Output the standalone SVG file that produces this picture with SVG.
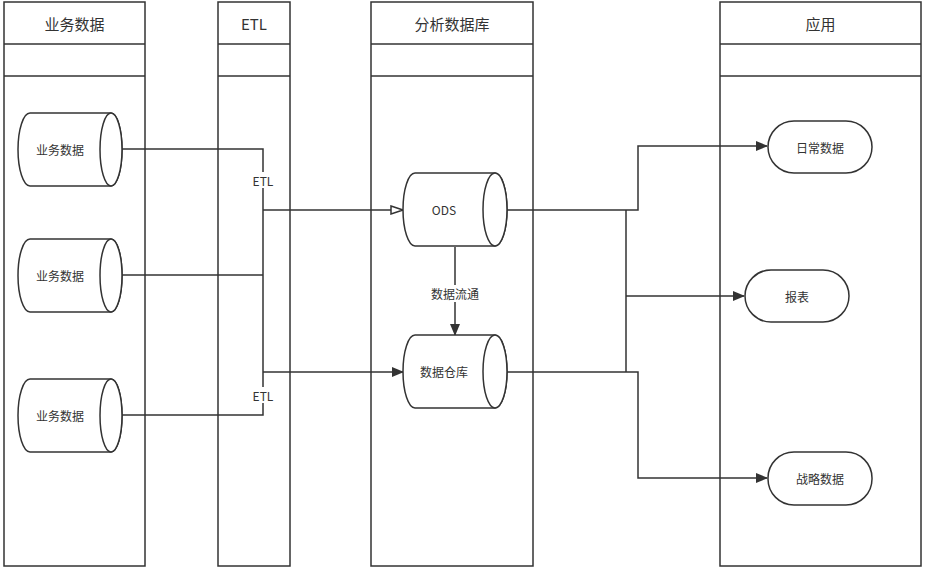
<svg xmlns="http://www.w3.org/2000/svg" width="926" height="572" viewBox="0 0 926 572">
<style>
.ln{fill:#fff;stroke:#333;stroke-width:1.5}
.c{fill:none;stroke:#333;stroke-width:1.5}
text{font-family:"Noto Sans CJK SC","Noto Sans",sans-serif;fill:#333;text-anchor:middle;dominant-baseline:central}
.h{font-size:15px}
.t{font-size:12px}
</style>
<defs>
<marker id="fa" markerWidth="12" markerHeight="10" refX="11" refY="5" orient="auto" markerUnits="userSpaceOnUse"><path d="M0,0L12,5L0,10Z" fill="#333"/></marker>
<marker id="oa" markerWidth="14" markerHeight="10" refX="13" refY="5" orient="auto" markerUnits="userSpaceOnUse"><path d="M1,1L13,5L1,9Z" fill="#fff" stroke="#333" stroke-width="1.5"/></marker>
</defs>
<rect width="926" height="572" fill="#fff"/>
<g id="lane1"><rect class="ln" x="4" y="2" width="141" height="564"/><line class="c" x1="4" y1="44" x2="145" y2="44"/><line class="c" x1="4" y1="76" x2="145" y2="76"/><text class="h" x="74.5" y="23">业务数据</text></g>
<g id="lane2"><rect class="ln" x="218" y="2" width="72" height="564"/><line class="c" x1="218" y1="44" x2="290" y2="44"/><line class="c" x1="218" y1="76" x2="290" y2="76"/><text class="h" x="254" y="23">ETL</text></g>
<g id="lane3"><rect class="ln" x="371" y="2" width="162" height="564"/><line class="c" x1="371" y1="44" x2="533" y2="44"/><line class="c" x1="371" y1="76" x2="533" y2="76"/><text class="h" x="452" y="23">分析数据库</text></g>
<g id="lane4"><rect class="ln" x="720" y="2" width="201" height="564"/><line class="c" x1="720" y1="44" x2="921" y2="44"/><line class="c" x1="720" y1="76" x2="921" y2="76"/><text class="h" x="820.5" y="23">应用</text></g>
<g id="connectors">
<path class="c" d="M122,149H263V415H122"/>
<path class="c" d="M122,275H263"/>
<path class="c" d="M263,210H403" marker-end="url(#oa)"/>
<path class="c" d="M263,372H403" marker-end="url(#fa)"/>
<path class="c" d="M455,247V335" marker-end="url(#fa)"/>
<path class="c" d="M507,210H638V146H767" marker-end="url(#fa)"/>
<path class="c" d="M507,372H638V478H767" marker-end="url(#fa)"/>
<path class="c" d="M626,210V372M626,296H744" marker-end="url(#fa)"/>
<rect x="249" y="172" width="28" height="16" fill="#fff"/><text class="t" x="263" y="180">ETL</text>
<rect x="249" y="387" width="28" height="16" fill="#fff"/><text class="t" x="263" y="395">ETL</text>
<rect x="425" y="285" width="60" height="17" fill="#fff"/><text class="t" x="455" y="293">数据流通</text>
</g>
<g id="src1"><path class="ln" d="M111,113H30A12,36.5 0 0 0 18,149.5A12,36.5 0 0 0 30,186H111A11,36.5 0 0 0 111,113"/><ellipse class="ln" cx="111" cy="149.5" rx="11" ry="36.5"/><text class="t" x="60" y="149.5">业务数据</text></g>
<g id="src2"><path class="ln" d="M111,239H30A12,36.5 0 0 0 18,275.5A12,36.5 0 0 0 30,312H111A11,36.5 0 0 0 111,239"/><ellipse class="ln" cx="111" cy="275.5" rx="11" ry="36.5"/><text class="t" x="60" y="275.5">业务数据</text></g>
<g id="src3"><path class="ln" d="M111,379H30A12,36.5 0 0 0 18,415.5A12,36.5 0 0 0 30,452H111A11,36.5 0 0 0 111,379"/><ellipse class="ln" cx="111" cy="415.5" rx="11" ry="36.5"/><text class="t" x="60" y="415.5">业务数据</text></g>
<g id="ods"><path class="ln" d="M495,173H415A12,36.5 0 0 0 403,209.5A12,36.5 0 0 0 415,246H495A12,36.5 0 0 0 495,173"/><ellipse class="ln" cx="495" cy="209.5" rx="12" ry="36.5"/><text class="t" x="444" y="209.5">ODS</text></g>
<g id="dw"><path class="ln" d="M495,335H415A12,36.5 0 0 0 403,371.5A12,36.5 0 0 0 415,408H495A12,36.5 0 0 0 495,335"/><ellipse class="ln" cx="495" cy="371.5" rx="12" ry="36.5"/><text class="t" x="444" y="371.5">数据仓库</text></g>
<g id="daily"><rect class="ln" x="768" y="121" width="104" height="52" rx="26"/><text class="t" x="820" y="147">日常数据</text></g>
<g id="report"><rect class="ln" x="745" y="270" width="104" height="52" rx="26"/><text class="t" x="797" y="296">报表</text></g>
<g id="strategy"><rect class="ln" x="768" y="452" width="104" height="53" rx="26"/><text class="t" x="820" y="478">战略数据</text></g>
</svg>
